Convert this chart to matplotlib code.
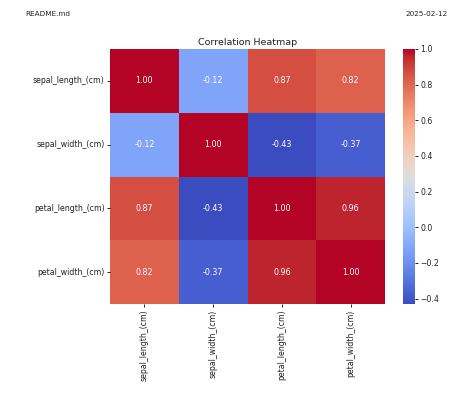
import matplotlib
matplotlib.use('Agg')
import matplotlib.pyplot as plt
import seaborn as sns
import numpy as np

labels = ['sepal_length_(cm)', 'sepal_width_(cm)', 'petal_length_(cm)', 'petal_width_(cm)']
corr = [
    [1.00, -0.12, 0.87, 0.82],
    [-0.12, 1.00, -0.43, -0.37],
    [0.87, -0.43, 1.00, 0.96],
    [0.82, -0.37, 0.96, 1.00],
]
cbar_ticks = [-0.4, -0.2, 0.0, 0.2, 0.4, 0.6, 0.8, 1.0]

W, H = 474, 395
fig = plt.figure(figsize=(W / 100, H / 100), dpi=100)

# page header
fig.text(25 / W, 1 - 14 / H, 'README.md', fontsize=5.2, ha='left', va='center', color='#222222')
fig.text(448 / W, 1 - 14 / H, '2025-02-12', fontsize=5.2, ha='right', va='center', color='#222222')

ax = fig.add_axes([110 / W, 1 - 304 / H, 275 / W, 255 / H])
cax = fig.add_axes([403 / W, 1 - 304 / H, 12 / W, 255 / H])

sns.heatmap(np.array(corr), ax=ax, cbar_ax=cax, cmap='coolwarm',
            annot=True, fmt='.2f', annot_kws={'color': 'white', 'fontsize': 5.8},
            xticklabels=labels, yticklabels=labels)

ax.set_title('Correlation Heatmap', fontsize=6.8, pad=3, color='#222222')
ax.tick_params(axis='both', labelsize=5.6, length=2, width=0.6, pad=2, labelcolor='#222222')
plt.setp(ax.get_xticklabels(), rotation=90)
plt.setp(ax.get_yticklabels(), rotation=0)

cax.set_yticks(cbar_ticks)
cax.tick_params(labelsize=5.6, length=2, width=0.6, pad=2, labelcolor='#222222')
for s in cax.spines.values():
    s.set_visible(False)

fig.savefig('out.png', dpi=100)
